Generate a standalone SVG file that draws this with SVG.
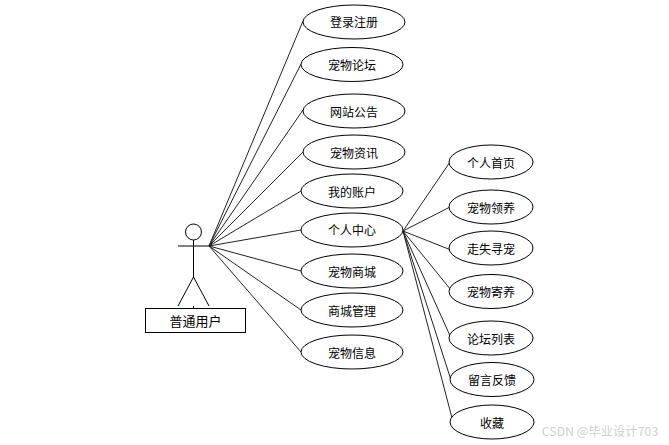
<svg xmlns="http://www.w3.org/2000/svg" width="669" height="445" viewBox="0 0 669 445">
<style>
text{font-family:"Noto Sans CJK SC","Liberation Sans",sans-serif;font-size:12px;text-anchor:middle;dominant-baseline:central;fill:#000}
.u ellipse{fill:#fff;stroke:#000;stroke-width:1}
.a{fill:none;stroke:#000;stroke-width:1}
#connectors line{stroke:#222;stroke-width:1}
</style>
<rect width="669" height="445" fill="#fff"/>
<g id="connectors">
<line x1="209" y1="246" x2="303" y2="21"/>
<line x1="209" y1="246" x2="301" y2="64"/>
<line x1="209" y1="246" x2="303" y2="110"/>
<line x1="209" y1="246" x2="303" y2="152"/>
<line x1="209" y1="246" x2="301" y2="191"/>
<line x1="209" y1="246" x2="301" y2="230"/>
<line x1="209" y1="246" x2="301" y2="271"/>
<line x1="209" y1="246" x2="301" y2="310"/>
<line x1="209" y1="246" x2="301" y2="352"/>
<line x1="403" y1="231" x2="450" y2="162"/>
<line x1="403" y1="231" x2="450" y2="207"/>
<line x1="403" y1="231" x2="451" y2="250"/>
<line x1="403" y1="231" x2="451" y2="290"/>
<line x1="403" y1="231" x2="451" y2="338"/>
<line x1="403" y1="231" x2="451" y2="380"/>
<line x1="403" y1="231" x2="452" y2="418"/>
</g>
<g id="actor">
<circle class="a" cx="193.500" cy="232" r="8"/>
<path class="a" d="M178 246H209M193.500 240V277M193.500 277L178 306M193.500 277L209 306M193.500 306V308"/>
<rect x="145.500" y="308.500" width="100" height="24" fill="#fff" stroke="#000"/>
<text x="195.500" y="320.500" style="font-size:13px">普通用户</text>
</g>
<g id="n1" class="u"><ellipse cx="354" cy="22" rx="51" ry="17"/><text x="354" y="21.500">登录注册</text></g>
<g id="n2" class="u"><ellipse cx="352" cy="64.500" rx="51" ry="17"/><text x="352" y="64.500">宠物论坛</text></g>
<g id="n3" class="u"><ellipse cx="354" cy="111" rx="51" ry="17"/><text x="354" y="111">网站公告</text></g>
<g id="n4" class="u"><ellipse cx="354" cy="152" rx="51" ry="17"/><text x="354" y="152">宠物资讯</text></g>
<g id="n5" class="u"><ellipse cx="352" cy="191" rx="51" ry="17"/><text x="352" y="191">我的账户</text></g>
<g id="n6" class="u"><ellipse cx="352" cy="230" rx="51" ry="17"/><text x="352" y="229">个人中心</text></g>
<g id="n7" class="u"><ellipse cx="352" cy="271" rx="51" ry="17"/><text x="352" y="271">宠物商城</text></g>
<g id="n8" class="u"><ellipse cx="352" cy="310" rx="51" ry="17"/><text x="352" y="310">商城管理</text></g>
<g id="n9" class="u"><ellipse cx="352" cy="352" rx="51" ry="17"/><text x="352" y="352">宠物信息</text></g>
<g id="n10" class="u"><ellipse cx="491" cy="162" rx="42" ry="17"/><text x="491" y="162">个人首页</text></g>
<g id="n11" class="u"><ellipse cx="491" cy="207" rx="42" ry="17"/><text x="491" y="207">宠物领养</text></g>
<g id="n12" class="u"><ellipse cx="491" cy="248" rx="42" ry="17"/><text x="491" y="248">走失寻宠</text></g>
<g id="n13" class="u"><ellipse cx="491" cy="291.500" rx="42" ry="17"/><text x="491" y="291.500">宠物寄养</text></g>
<g id="n14" class="u"><ellipse cx="491" cy="338" rx="42" ry="17"/><text x="491" y="338">论坛列表</text></g>
<g id="n15" class="u"><ellipse cx="492" cy="379.500" rx="42" ry="17"/><text x="492" y="379.500">留言反馈</text></g>
<g id="n16" class="u"><ellipse cx="492" cy="422" rx="42" ry="17"/><text x="492" y="422">收藏</text></g>
<text x="600" y="431" style="font-size:12.200px;letter-spacing:.1px;fill:#cfcfcf">CSDN @毕业设计703</text>
</svg>
